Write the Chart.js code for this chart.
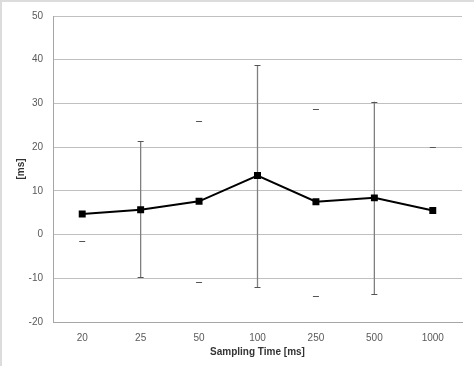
<!DOCTYPE html>
<html>
<head>
<meta charset="utf-8">
<script src="https://cdn.jsdelivr.net/npm/chart.js@4/dist/chart.umd.min.js"></script>
<style>
  html, body { margin: 0; padding: 0; background: #fff; }
  #wrap { width: 474px; height: 366px; }
</style>
</head>
<body>
<div id="wrap"><canvas id="chart" width="474" height="366"></canvas></div>
<script>
// values
const labels = ['20', '25', '50', '100', '250', '500', '1000'];
const means = [4.7, 5.7, 7.6, 13.5, 7.5, 8.4, 5.5];
const upper = [null, 21.3, 26.0, 38.8, 28.8, 30.4, 20.0];
const lower = [-1.5, -9.8, -10.9, -12.1, -14.0, -13.6, null];
// only some of the whisker lines are visible in the original
const whiskerShown = [false, true, false, true, false, true, false];

// light frame on top and left edge, like the scanned figure
const framePlugin = {
  id: 'frame',
  beforeDraw(chart) {
    const c = chart.ctx;
    c.save();
    c.fillStyle = '#fff';
    c.fillRect(0, 0, chart.width, chart.height);
    c.fillStyle = '#dcdcdc';
    c.fillRect(0, 0, chart.width, 2);
    c.fillRect(0, 0, 2, chart.height);
    c.restore();
  }
};

const errorBars = {
  id: 'errorBars',
  beforeDatasetsDraw(chart) {
    const c = chart.ctx;
    const x = chart.scales.x, y = chart.scales.y;
    c.save();
    labels.forEach((lab, i) => {
      const px = x.getPixelForValue(i);
      const top = upper[i] != null ? y.getPixelForValue(upper[i]) : null;
      const bot = lower[i] != null ? y.getPixelForValue(lower[i]) : null;
      if (whiskerShown[i] && top != null && bot != null) {
        c.strokeStyle = '#7f7f7f';
        c.lineWidth = 1.3;
        c.beginPath();
        c.moveTo(px, top);
        c.lineTo(px, bot);
        c.stroke();
      }
      c.strokeStyle = '#555';
      c.lineWidth = 1;
      [top, bot].forEach(py => {
        if (py == null) return;
        c.beginPath();
        c.moveTo(px - 3, Math.round(py) + 0.5);
        c.lineTo(px + 3, Math.round(py) + 0.5);
        c.stroke();
      });
    });
    c.restore();
  }
};

const tickFont = { family: 'Liberation Sans', size: 10 };
const titleFont = { family: 'Liberation Sans', size: 10, weight: 'bold' };

new Chart(document.getElementById('chart'), {
  type: 'line',
  data: {
    labels,
    datasets: [{
      data: means,
      borderColor: '#000',
      backgroundColor: '#000',
      borderWidth: 2,
      pointStyle: 'rect',
      pointRadius: 3.5,
      pointHoverRadius: 3.5,
      tension: 0
    }]
  },
  options: {
    responsive: false,
    animation: false,
    layout: { padding: { left: 0, top: 13, right: 12, bottom: 0 } },
    plugins: { legend: { display: false }, tooltip: { enabled: false } },
    scales: {
      x: {
        offset: true,
        grid: { display: false, drawTicks: false },
        border: { display: true, color: '#a6a6a6', width: 1 },
        ticks: { font: tickFont, color: '#595959', padding: 10 },
        title: { display: true, text: 'Sampling Time [ms]', font: titleFont, color: '#333', padding: { top: 4, bottom: 8 } },
        afterFit(s) { s.height = 44; }
      },
      y: {
        min: -20,
        max: 50,
        ticks: { stepSize: 10, font: tickFont, color: '#595959', padding: 10 },
        grid: { color: '#c0c0c0', lineWidth: 1, drawTicks: false },
        border: { display: true, color: '#a6a6a6', width: 1 },
        title: { display: true, text: '[ms]', font: titleFont, color: '#333', padding: { top: 15, bottom: 0 } },
        afterFit(s) { s.width = 53; }
      }
    }
  },
  plugins: [framePlugin, errorBars]
});
</script>
</body>
</html>
